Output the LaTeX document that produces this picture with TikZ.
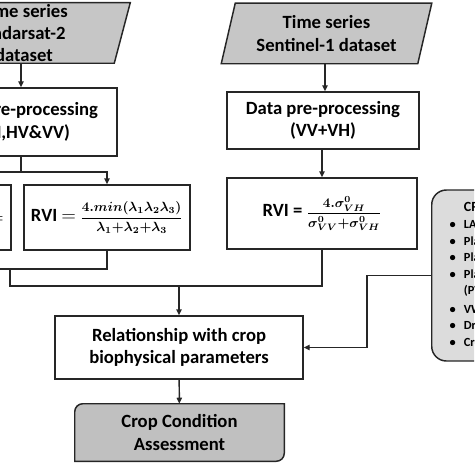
\documentclass[tikz,border=0pt]{standalone}
\usepackage{amsmath}
\usepackage{fontspec}
\setmainfont{Carlito}
\usetikzlibrary{calc,arrows.meta,backgrounds}

\definecolor{linegray}{RGB}{38,38,38}
\definecolor{dsgray}{RGB}{198,198,198}
\definecolor{ccgray}{RGB}{192,192,192}
\definecolor{cpgray}{RGB}{220,220,220}

\tikzset{
  flow/.style={draw=linegray, line width=1.1pt},
  arr/.style={flow, -{Triangle[length=4.5pt,width=4pt]}},
  txt/.style={font=\bfseries\fontsize{14}{17}\selectfont, align=center, inner sep=0pt},
  dataset/.style={txt, rectangle, minimum width=147pt, minimum height=45pt},
  procbox/.style={txt, rectangle, draw=linegray, line width=1.1pt, fill=white},
  condbox/.style={txt, rectangle, minimum width=156.75pt, minimum height=42.75pt},
  cpbox/.style={rectangle, rounded corners=11pt, draw=linegray, line width=1.1pt, fill=cpgray,
    font=\bfseries\fontsize{9.3}{12.3}\selectfont, align=left, text width=200pt,
    inner xsep=13.5pt, inner ysep=0pt, minimum height=128.25pt}
}

\begin{document}
\begin{tikzpicture}[x=0.75pt,y=0.75pt,yscale=-1,xscale=1]
\clip (0,0) rectangle (474,474);
%Shape: Parallelogram [id:rsds]
\node[dataset, font=\bfseries\fontsize{14}{16.2}\selectfont] (rsds) at (24,33) {Time series\\Radarsat-2\\dataset};
%Shape: Parallelogram [id:s1ds]
\node[dataset] (s1ds) at (326.5,33.5) {Time series\\Sentinel-1 dataset};
%Shape: Rectangle [id:rspre]
\node[procbox, minimum width=144pt, minimum height=51pt] (rspre) at (21,122) {Data pre-processing\\(HH,HV\&VV)};
%Shape: Rectangle [id:s1pre]
\node[procbox, minimum width=144pt, minimum height=42.75pt] (s1pre) at (323,120.5) {Data pre-processing\\(VV+VH)};
%Shape: Rectangle [id:rsleft]
\node[procbox, minimum width=75pt, minimum height=48.75pt] (rsleft) at (-39,217.5) {};
\node[txt, anchor=east] (rseq) at (4,220) {$=$};
%Shape: Rectangle [id:rsrvi]
\node[procbox, minimum width=124.5pt, minimum height=48.75pt] (rsrvi) at (107,217.5)
  {RVI $=$ {\fontsize{9.6}{12}\selectfont\boldmath$\dfrac{4.min(\lambda_1\lambda_2\lambda_3)}{\lambda_1{+}\lambda_2{+}\lambda_3}$}};
%Shape: Rectangle [id:s1rvi]
\node[procbox, minimum width=142.5pt, minimum height=53.25pt] (s1rvi) at (322,213.5)
  {RVI = {\fontsize{9.6}{12}\selectfont\boldmath$\dfrac{4.\sigma^0_{VH}}{\sigma^0_{VV}{+}\sigma^0_{VH}}$}};
%Shape: Rectangle [id:rel]
\node[procbox, minimum width=186pt, minimum height=47.25pt] (rel) at (179,347.5) {Relationship with crop\\biophysical parameters};
%Shape: Snip Rectangle [id:cc]
\node[condbox] (cc) at (179.5,432.5) {Crop Condition\\Assessment};
%Shape: Rounded Rect [id:cp]
\node[cpbox, anchor=west] (cp) at (431,275.5) {%
  \begin{tabular}{@{}l@{\hspace{6pt}}l@{}}
  & \fontsize{10.5}{12}\selectfont CROP PARAMETERS\\[1pt]
  \textbullet & LAI\\
  \textbullet & Plant height\\
  \textbullet & Plant biomass\\
  \textbullet & Plant water content\\
  & (PWC)\\[2pt]
  \textbullet & VWC\\
  \textbullet & Dry biomass\\
  \textbullet & Crop cover
  \end{tabular}};

\begin{scope}[on background layer]
\draw[flow, fill=dsgray] ($(rsds.south west)+(-8,0)$) -- ($(rsds.south east)+(-8,0)$) -- ($(rsds.north east)+(8,0)$) -- ($(rsds.north west)+(8,0)$) -- cycle;
\draw[flow, fill=dsgray] ($(s1ds.south west)+(-7,0)$) -- ($(s1ds.south east)+(-7,0)$) -- ($(s1ds.north east)+(7,0)$) -- ($(s1ds.north west)+(7,0)$) -- cycle;
\draw[flow, fill=ccgray] (cc.south west) -- ($(cc.north west)+(0,8)$) arc[start angle=180,end angle=270,radius=8] -- (cc.north east) -- ($(cc.south east)+(0,-8)$) arc[start angle=0,end angle=90,radius=8] -- cycle;
\end{scope}

\coordinate (rssplit) at (21,172);
\coordinate (rsjoin) at (10,269);
\coordinate (bus) at (179,286);

%Straight Lines
\draw[arr] (rsds.south -| rspre.north) -- (rspre.north);
\draw[arr] (s1ds.south -| 325,0) -- (s1pre.north -| 325,0);
\draw[arr] (s1pre.south -| s1rvi.north) -- (s1rvi.north);
\draw[flow] (rspre.south) -- (rssplit);
\draw[arr] (rssplit) -| (rsrvi.north);
\draw[arr] (rssplit) -| (rsleft.north);
\draw[flow] (rsrvi.south) |- (rsjoin) -- (rsjoin -| rsleft.south) -- (rsleft.south);
\draw[flow] (rsjoin) |- (bus) -| (s1rvi.south);
\draw[arr] (bus) -- (rel.north);
\draw[arr] (rel) -- (cc);
\draw[arr] (cp.west) -- ++(-64,0) |- (rel.east);
\end{tikzpicture}
\end{document}
